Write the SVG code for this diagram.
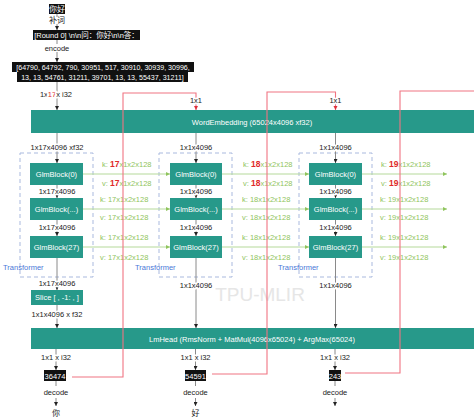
<svg xmlns="http://www.w3.org/2000/svg" width="474" height="420" viewBox="0 0 474 420">
<style>
text{font-family:"Liberation Sans","Noto Sans CJK SC",sans-serif;font-size:7.5px;fill:#222;text-anchor:middle}
.lbl{paint-order:stroke;stroke:#fff;stroke-width:3px;stroke-linejoin:round}
.teal{fill:#27998a}
.wt{fill:#fff}
.tok{font-size:7.1px}
.bk{fill:#111}
.cjk{font-family:"Noto Sans CJK SC",sans-serif;font-size:8px}
.g{stroke:#8a8a8a;stroke-width:1;fill:none}
.red{stroke:#f07482;stroke-width:1.1;fill:none}
.grn{stroke:#b5d99a;stroke-width:1;fill:none}
.gt{fill:#8fc45c;text-anchor:start}
.rn{fill:#e02a2a;font-weight:bold;font-size:8.5px}
.r{fill:#e02a2a}
.tf{fill:#4a78d8;text-anchor:start}
.dash{fill:none;stroke:#a9b9de;stroke-width:1;stroke-dasharray:4 3}
.wm{fill:#e6e6e6;font-size:19px}
</style>
<defs>
<marker id="ab" viewBox="0 0 6 6" refX="6" refY="3" markerWidth="4" markerHeight="4" orient="auto"><path d="M0,0L6,3L0,6z" fill="#222"/></marker>
<marker id="ar" viewBox="0 0 6 6" refX="6" refY="3" markerWidth="4" markerHeight="4" orient="auto"><path d="M0,0L6,3L0,6z" fill="#e0303a"/></marker>
<marker id="ag" viewBox="0 0 6 6" refX="6" refY="3" markerWidth="4" markerHeight="4" orient="auto"><path d="M0,0L6,3L0,6z" fill="#8fc45c"/></marker>
</defs>

<text class="wm" x="260" y="301">TPU-MLIR</text>

<!-- top inputs -->
<g id="prompt-word">
<rect class="bk" x="49" y="4" width="16" height="10"/>
<text class="wt cjk" x="57" y="12">你好</text>
</g>
<g id="prompt-label"><text class="cjk" x="57" y="23">补词</text></g>
<g id="prompt-template">
<rect class="bk" x="33" y="30" width="107" height="10"/>
<text class="wt" x="86.5" y="38">[Round 0] \n\n问：你好\n\n答：</text>
</g>
<g id="encode-label"><text x="57" y="51">encode</text></g>
<g id="token-ids">
<rect class="bk" x="12" y="62" width="182" height="10"/>
<rect class="bk" x="17" y="72" width="171" height="10"/>
<text class="wt tok" x="103" y="70">[64790, 64792, 790, 30951, 517, 30910, 30939, 30996,</text>
<text class="wt tok" x="102.5" y="80">13, 13, 54761, 31211, 39701, 13, 13, 55437, 31211]</text>
</g>

<!-- bars -->
<g id="word-embedding">
<rect class="teal" x="31" y="110" width="443" height="23"/>
<text class="wt" x="252" y="125">WordEmbedding (65024x4096 xf32)</text>
</g>
<g id="lm-head">
<rect class="teal" x="31" y="328" width="443" height="21"/>
<text class="wt" x="252" y="341.5">LmHead (RmsNorm + MatMul(4096x65024) + ArgMax(65024)</text>
</g>

<!-- transformer columns -->
<g id="transformer-1">
<rect class="dash" x="20" y="153" width="73" height="124"/>
<text class="tf" x="3" y="270">Transformer</text>
</g>
<g id="transformer-2">
<rect class="dash" x="159" y="153" width="73" height="124"/>
<text class="tf" x="135" y="270">Transformer</text>
</g>
<g id="transformer-3">
<rect class="dash" x="299" y="153" width="73" height="124"/>
<text class="tf" x="278" y="270">Transformer</text>
</g>

<g id="c1-block0"><rect class="teal" x="30" y="163" width="53" height="22"/><text class="wt" x="56.5" y="176.7">GlmBlock(0)</text></g>
<g id="c1-blockN"><rect class="teal" x="30" y="198" width="53" height="22"/><text class="wt" x="56.5" y="211.7">GlmBlock(...)</text></g>
<g id="c1-block27"><rect class="teal" x="30" y="236" width="53" height="22"/><text class="wt" x="56.5" y="249.7">GlmBlock(27)</text></g>
<g id="c2-block0"><rect class="teal" x="170" y="163" width="52" height="22"/><text class="wt" x="196" y="176.7">GlmBlock(0)</text></g>
<g id="c2-blockN"><rect class="teal" x="170" y="198" width="52" height="22"/><text class="wt" x="196" y="211.7">GlmBlock(...)</text></g>
<g id="c2-block27"><rect class="teal" x="170" y="236" width="52" height="22"/><text class="wt" x="196" y="249.7">GlmBlock(27)</text></g>
<g id="c3-block0"><rect class="teal" x="309" y="163" width="53" height="22"/><text class="wt" x="335.5" y="176.7">GlmBlock(0)</text></g>
<g id="c3-blockN"><rect class="teal" x="309" y="198" width="53" height="22"/><text class="wt" x="335.5" y="211.7">GlmBlock(...)</text></g>
<g id="c3-block27"><rect class="teal" x="309" y="236" width="53" height="22"/><text class="wt" x="335.5" y="249.7">GlmBlock(27)</text></g>

<g id="slice"><rect class="teal" x="31" y="290" width="52" height="15"/><text class="wt" x="57" y="300">Slice [ , -1: , ]</text></g>

<!-- outputs -->
<g id="out-1">
<rect class="bk" x="44" y="370" width="22" height="11"/>
<text class="wt" x="55" y="378.5">36474</text>
</g>
<g id="out-2">
<rect class="bk" x="185" y="370" width="21" height="11"/>
<text class="wt" x="195.5" y="378.5">54591</text>
</g>
<g id="out-3">
<rect class="bk" x="329" y="370" width="12" height="11"/>
<text class="wt" x="335" y="378.5">243</text>
</g>
<g id="word-1"><text class="cjk" x="56" y="416">你</text></g>
<g id="word-2"><text class="cjk" x="195.5" y="416">好</text></g>

<!-- connectors -->
<g id="connectors">
<!-- top chain -->
<line class="g" x1="57" y1="14" x2="57" y2="17"/>
<line class="g" x1="57" y1="24" x2="57" y2="30" marker-end="url(#ab)"/>
<line class="g" x1="57" y1="40" x2="57" y2="44"/>
<line class="g" x1="57" y1="52" x2="57" y2="62" marker-end="url(#ab)"/>
<line class="g" x1="57" y1="82" x2="57" y2="110" marker-end="url(#ab)"/>
<text class="lbl" x="56" y="97">1x<tspan class="r">17</tspan>x i32</text>

<!-- column 1 vertical -->
<line class="g" x1="57" y1="133" x2="57" y2="163" marker-end="url(#ab)"/>
<text class="lbl" x="57" y="150">1x17x4096 xf32</text>
<line class="g" x1="57" y1="185" x2="57" y2="198" marker-end="url(#ab)"/>
<text class="lbl" x="57" y="194">1x17x4096</text>
<line class="g" x1="57" y1="220" x2="57" y2="236" marker-end="url(#ab)"/>
<text class="lbl" x="57" y="230">1x17x4096</text>
<line class="g" x1="57" y1="258" x2="57" y2="290" marker-end="url(#ab)"/>
<text class="lbl" x="57" y="286">1x17x4096</text>
<line class="g" x1="57" y1="305" x2="57" y2="328" marker-end="url(#ab)"/>
<text class="lbl" x="57" y="317">1x1x4096 x f32</text>

<!-- column 2 vertical -->
<line class="g" x1="196" y1="133" x2="196" y2="163" marker-end="url(#ab)"/>
<text class="lbl" x="196" y="150">1x1x4096</text>
<line class="g" x1="196" y1="185" x2="196" y2="198" marker-end="url(#ab)"/>
<text class="lbl" x="196" y="194">1x1x4096</text>
<line class="g" x1="196" y1="220" x2="196" y2="236" marker-end="url(#ab)"/>
<text class="lbl" x="196" y="230">1x1x4096</text>
<line class="g" x1="196" y1="258" x2="196" y2="328" marker-end="url(#ab)"/>
<text class="lbl" x="196" y="288">1x1x4096</text>

<!-- column 3 vertical -->
<line class="g" x1="335.5" y1="133" x2="335.5" y2="163" marker-end="url(#ab)"/>
<text class="lbl" x="335.5" y="150">1x1x4096</text>
<line class="g" x1="335.5" y1="185" x2="335.5" y2="198" marker-end="url(#ab)"/>
<text class="lbl" x="335.5" y="194">1x1x4096</text>
<line class="g" x1="335.5" y1="220" x2="335.5" y2="236" marker-end="url(#ab)"/>
<text class="lbl" x="335.5" y="230">1x1x4096</text>
<line class="g" x1="335.5" y1="258" x2="335.5" y2="328" marker-end="url(#ab)"/>
<text class="lbl" x="335.5" y="288">1x1x4096</text>

<!-- bottom chains -->
<line class="g" x1="56" y1="349" x2="56" y2="370" marker-end="url(#ab)"/>
<text class="lbl" x="56" y="360">1x1 x i32</text>
<line class="g" x1="56" y1="381" x2="56" y2="386"/>
<text x="56" y="395">decode</text>
<line class="g" x1="56" y1="398" x2="56" y2="406" marker-end="url(#ab)"/>

<line class="g" x1="195.5" y1="349" x2="195.5" y2="370" marker-end="url(#ab)"/>
<text class="lbl" x="195.5" y="360">1x1 x i32</text>
<line class="g" x1="195.5" y1="381" x2="195.5" y2="386"/>
<text x="195.5" y="395">decode</text>
<line class="g" x1="195.5" y1="398" x2="195.5" y2="406" marker-end="url(#ab)"/>

<line class="g" x1="335" y1="349" x2="335" y2="370" marker-end="url(#ab)"/>
<text class="lbl" x="335" y="360">1x1 x i32</text>
<line class="g" x1="335" y1="381" x2="335" y2="386"/>
<text x="335" y="395">decode</text>
<line class="g" x1="335" y1="398" x2="335" y2="406" marker-end="url(#ab)"/>

<!-- kv cache green -->
<line class="grn" x1="83" y1="174" x2="170" y2="174" marker-end="url(#ag)"/>
<line class="grn" x1="83" y1="209" x2="170" y2="209" marker-end="url(#ag)"/>
<line class="grn" x1="83" y1="247" x2="170" y2="247" marker-end="url(#ag)"/>
<line class="grn" x1="222" y1="174" x2="309" y2="174" marker-end="url(#ag)"/>
<line class="grn" x1="222" y1="209" x2="309" y2="209" marker-end="url(#ag)"/>
<line class="grn" x1="222" y1="247" x2="309" y2="247" marker-end="url(#ag)"/>
<line class="grn" x1="362" y1="174" x2="447" y2="174" marker-end="url(#ag)"/>
<line class="grn" x1="362" y1="209" x2="447" y2="209" marker-end="url(#ag)"/>
<line class="grn" x1="362" y1="247" x2="447" y2="247" marker-end="url(#ag)"/>

<text class="gt" x="102" y="167">k: <tspan class="rn">17</tspan>x1x2x128</text>
<text class="gt" x="102" y="186">v: <tspan class="rn">17</tspan>x1x2x128</text>
<text class="gt" x="100" y="202">k: 17x1x2x128</text>
<text class="gt" x="100" y="220">v: 17x1x2x128</text>
<text class="gt" x="100" y="240">k: 17x1x2x128</text>
<text class="gt" x="100" y="260">v: 17x1x2x128</text>

<text class="gt" x="243" y="167">k: <tspan class="rn">18</tspan>x1x2x128</text>
<text class="gt" x="243" y="186">v: <tspan class="rn">18</tspan>x1x2x128</text>
<text class="gt" x="242" y="202">k: 18x1x2x128</text>
<text class="gt" x="242" y="220">v: 18x1x2x128</text>
<text class="gt" x="242" y="240">k: 18x1x2x128</text>
<text class="gt" x="242" y="260">v: 18x1x2x128</text>

<text class="gt" x="381" y="167">k: <tspan class="rn">19</tspan>x1x2x128</text>
<text class="gt" x="381" y="186">v: <tspan class="rn">19</tspan>x1x2x128</text>
<text class="gt" x="380" y="202">k: 19x1x2x128</text>
<text class="gt" x="380" y="220">v: 19x1x2x128</text>
<text class="gt" x="380" y="240">k: 19x1x2x128</text>
<text class="gt" x="380" y="260">v: 19x1x2x128</text>

<!-- red feedback -->
<polyline class="red" points="72,377 123,377 123,93 196,93 196,110" marker-end="url(#ar)"/>
<polyline class="red" points="212,374 267,374 267,92 335.5,92 335.5,110" marker-end="url(#ar)"/>
<polyline class="red" points="345,373 400,373 400,91 474,91"/>
<text class="lbl" x="196" y="103">1x1</text>
<text class="lbl" x="335.5" y="103">1x1</text>
</g>
</svg>
